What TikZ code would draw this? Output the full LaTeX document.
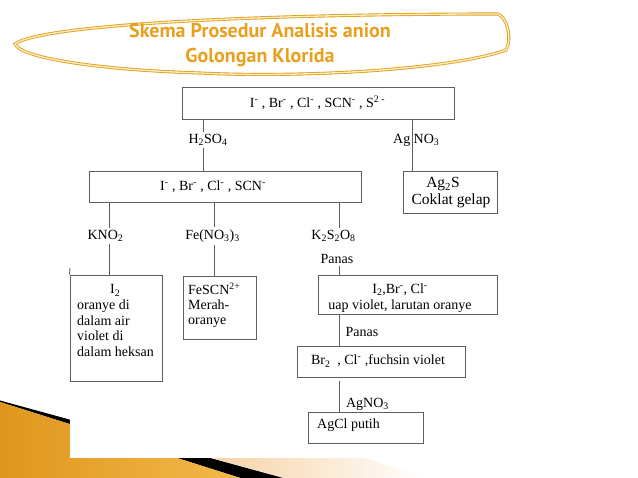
\documentclass[tikz,border=0pt]{standalone}
\usepackage{fontspec}
\setmainfont{Liberation Serif}
\newfontfamily\titlefont{PT Sans}
\usetikzlibrary{calc}
\definecolor{boxgray}{HTML}{5E5E5E}
\definecolor{titleor}{HTML}{E8A01E}
\definecolor{ringor}{HTML}{E2A020}
\definecolor{ringin}{HTML}{FCEFC6}
\definecolor{orA}{HTML}{DF961E}
\definecolor{orB}{HTML}{F3B94A}
\definecolor{peach}{HTML}{F6D1A2}
\definecolor{inkc}{HTML}{000000}
\tikzset{
  boxn/.style={draw=boxgray, line width=0.9pt, inner sep=0pt, rectangle},
  txt/.style={inner sep=0pt, text=inkc, font=\fontsize{14}{15.6}\selectfont},
  lbl/.style={inner sep=2.5pt, text=inkc, font=\fontsize{14}{15.6}\selectfont},
  conn/.style={draw=boxgray, line width=0.9pt},
}
\begin{document}
\begin{tikzpicture}[x=1pt,y=-1pt]
\useasboundingbox (0,0) rectangle (638,478);
% bottom decoration
\shade[left color=peach, right color=white] (205,456) -- (360,456) -- (425,478) -- (285,478) -- cycle;
\fill[black] (0,400.5) -- (285,478.5) -- (242,478.5) -- (0,402) -- cycle;
\shade[left color=orA, right color=orB] (0,402) -- (242,478.5) -- (0,478.5) -- cycle;
\fill[white] (70,395) rectangle (640,458);
% title ring
\draw[ringor, line width=0.9pt, double=ringin, double distance=1.3pt]
  (15,44) .. controls (40,25) and (250,14) .. (498,14)
  .. controls (508,18) and (512,40) .. (506,50)
  .. controls (450,70) and (300,78) .. (200,73)
  .. controls (100,70) and (20,58) .. (15,44) -- cycle;
\node[titleor, font=\titlefont\bfseries\fontsize{20}{25}\selectfont, align=center, inner sep=0pt]
  (title) at (260,44.5) {Skema Prosedur Analisis anion\\Golongan Klorida};
% boxes
\node[boxn, minimum width=272, minimum height=32] (b1) at (318,103) {};
\node[txt] (t1) at (317.5,103) {I\textsuperscript{-} , Br\textsuperscript{-} , Cl\textsuperscript{-} , SCN\textsuperscript{-} , S\textsuperscript{2 -}};
\node[boxn, minimum width=272, minimum height=31] (b2) at (225,186.5) {};
\node[txt] (t2) at (213,187) {I\textsuperscript{-} , Br\textsuperscript{-} , Cl\textsuperscript{-} , SCN\textsuperscript{-}};
\node[boxn, minimum width=94, minimum height=42] (bag) at (450,192) {};
\node[txt, align=center, font=\fontsize{15.5}{17}\selectfont] (tag) at (451,193) {Ag\textsubscript{2}S\hspace*{16pt}\\Coklat gelap};
\node[boxn, minimum width=92, minimum height=106] (bi) at (116,328) {};
\coordinate (bitop) at (70,268);
\draw[conn] (bitop) -- (bi.north west);
\node[txt, align=left, anchor=north west] (ti) at (77,284.5) {\hspace*{33pt}I\textsubscript{2}\\oranye di\\dalam air\\violet di\\dalam heksan};
\node[boxn, minimum width=73, minimum height=63] (bf) at (219.5,307.5) {};
\node[txt, align=left, anchor=north west, font=\fontsize{14}{14.6}\selectfont] (tf) at (188,283) {FeSCN\textsuperscript{2+}\\Merah-\\oranye};
\node[boxn, minimum width=179, minimum height=39] (bib) at (407.5,294.5) {};
\node[txt, align=center, font=\fontsize{14}{16}\selectfont] (tib) at (400,298) {I\textsubscript{2},Br\textsuperscript{-}, Cl\textsuperscript{-}\\uap violet, larutan oranye};
\node[boxn, minimum width=168, minimum height=31] (bbr) at (381,361.5) {};
\node[txt] (tbr) at (378,361) {Br\textsubscript{2}\ \ , Cl\textsuperscript{-} ,fuchsin violet};
\node[boxn, minimum width=115, minimum height=31] (bcl) at (365.5,427.5) {};
\node[txt, anchor=west] (tcl) at (317,425) {AgCl putih};
% labels
\node[lbl] (lh) at (208,140) {H\textsubscript{2}SO\textsubscript{4}};
\node[lbl, anchor=east, inner sep=0pt] (lag) at (410.5,140) {Ag};
\node[lbl, anchor=west, inner sep=0pt] (lno) at (413.5,140) {NO\textsubscript{3}};
\node[lbl] (lk) at (105.5,236) {KNO\textsubscript{2}};
\node[lbl] (lfe) at (212.5,236) {Fe(NO\textsubscript{3})\textsubscript{3}};
\node[lbl] (lks) at (333.5,236) {K\textsubscript{2}S\textsubscript{2}O\textsubscript{8}};
\node[lbl] (lp1) at (337,259) {Panas};
\node[lbl] (lp2) at (362,332) {Panas};
\node[lbl] (lagn) at (367.5,404) {AgNO\textsubscript{3}};
% column coordinates
\coordinate (xH) at (203,0);
\coordinate (xA) at (412,0);
\coordinate (xK) at (109,0);
\coordinate (xF) at (214,0);
\coordinate (xR) at (339,0);
% connectors
\draw[conn] (b1.south -| xH) -- (lh.north -| xH);
\draw[conn] (lh.south -| xH) -- (b2.north -| xH);
\draw[conn] (b1.south -| xA) -- (bag.north -| xA);
\draw[conn] (b2.south -| xK) -- (lk.north -| xK);
\draw[conn] (lk.south -| xK) -- (bi.north -| xK);
\draw[conn] (b2.south -| xF) -- (lfe.north -| xF);
\draw[conn] (lfe.south -| xF) -- (bf.north -| xF);
\draw[conn] (b2.south -| xR) -- (lks.north -| xR);
\draw[conn] (lp1.south -| xR) -- (bib.north -| xR);
\draw[conn] (bib.south -| xR) -- (bbr.north -| xR);
\draw[conn] ($(bbr.south -| xR)+(0,4)$) -- (bcl.north -| xR);
\end{tikzpicture}
\end{document}
